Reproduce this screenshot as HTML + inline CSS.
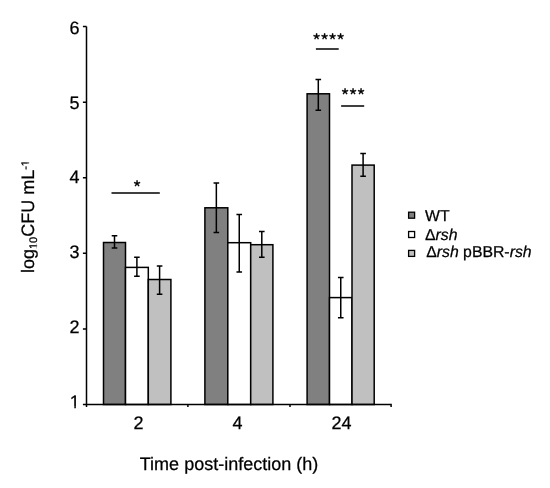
<!DOCTYPE html>
<html><head><meta charset="utf-8"><style>
html,body{margin:0;padding:0;background:#fff;}
svg{display:block;font-family:"Liberation Sans",Arial,sans-serif;text-rendering:geometricPrecision;}
text{stroke:#000;stroke-width:0.25px;}
</style></head><body>
<svg width="550" height="488" viewBox="0 0 550 488">
<rect width="550" height="488" fill="#fff"/>
<rect x="103.50" y="242.50" width="22.00" height="162.00" fill="#808080" stroke="#000" stroke-width="1.5"/>
<rect x="125.50" y="267.40" width="22.80" height="137.10" fill="#ffffff" stroke="#000" stroke-width="1.5"/>
<rect x="148.30" y="279.50" width="22.60" height="125.00" fill="#c0c0c0" stroke="#000" stroke-width="1.5"/>
<rect x="204.90" y="207.80" width="22.90" height="196.70" fill="#808080" stroke="#000" stroke-width="1.5"/>
<rect x="227.80" y="242.70" width="22.90" height="161.80" fill="#ffffff" stroke="#000" stroke-width="1.5"/>
<rect x="250.70" y="244.70" width="22.20" height="159.80" fill="#c0c0c0" stroke="#000" stroke-width="1.5"/>
<rect x="307.10" y="93.80" width="22.40" height="310.70" fill="#808080" stroke="#000" stroke-width="1.5"/>
<rect x="329.50" y="297.60" width="22.50" height="106.90" fill="#ffffff" stroke="#000" stroke-width="1.5"/>
<rect x="352.00" y="165.10" width="22.20" height="239.40" fill="#c0c0c0" stroke="#000" stroke-width="1.5"/>
<path d="M114.50 235.70V248.00M111.70 235.70H117.30M111.70 248.00H117.30" stroke="#000" stroke-width="1.5" fill="none"/>
<path d="M136.90 257.20V276.20M134.10 257.20H139.70M134.10 276.20H139.70" stroke="#000" stroke-width="1.5" fill="none"/>
<path d="M159.60 265.90V294.30M156.80 265.90H162.40M156.80 294.30H162.40" stroke="#000" stroke-width="1.5" fill="none"/>
<path d="M216.35 182.90V232.40M213.55 182.90H219.15M213.55 232.40H219.15" stroke="#000" stroke-width="1.5" fill="none"/>
<path d="M239.25 214.60V271.90M236.45 214.60H242.05M236.45 271.90H242.05" stroke="#000" stroke-width="1.5" fill="none"/>
<path d="M261.80 231.40V257.20M259.00 231.40H264.60M259.00 257.20H264.60" stroke="#000" stroke-width="1.5" fill="none"/>
<path d="M318.30 79.40V110.20M315.50 79.40H321.10M315.50 110.20H321.10" stroke="#000" stroke-width="1.5" fill="none"/>
<path d="M340.75 277.50V317.80M337.95 277.50H343.55M337.95 317.80H343.55" stroke="#000" stroke-width="1.5" fill="none"/>
<path d="M363.10 153.60V176.20M360.30 153.60H365.90M360.30 176.20H365.90" stroke="#000" stroke-width="1.5" fill="none"/>
<path d="M86.5 26.6V407.0M86.5 404.5H391.1V407.0M82.9 404.50H86.5M82.9 328.92H86.5M82.9 253.34H86.5M82.9 177.76H86.5M82.9 102.18H86.5M82.9 26.60H86.5M187.90 404.5V407.0M290.00 404.5V407.0" stroke="#000" stroke-width="1.5" fill="none"/>
<text x="79.5" y="333.15" text-anchor="end" font-size="18">2</text>
<text x="79.5" y="258.30" text-anchor="end" font-size="18">3</text>
<text x="79.5" y="183.45" text-anchor="end" font-size="18">4</text>
<text x="79.5" y="108.60" text-anchor="end" font-size="18">5</text>
<text x="79.5" y="33.75" text-anchor="end" font-size="18">6</text>
<clipPath id="c1"><rect x="60" y="380" width="30" height="26"/><rect x="74.3" y="380" width="1.55" height="30"/></clipPath>
<text x="69.8" y="407.6" font-size="18" clip-path="url(#c1)">1</text>
<text x="138.5" y="428.6" text-anchor="middle" font-size="18">2</text>
<text x="237.5" y="428.6" text-anchor="middle" font-size="18">4</text>
<text x="341.5" y="428.6" text-anchor="middle" font-size="18">24</text>
<path d="M111.5 193H159.8M315.9 49H338.7M341.1 106.1H364.2" stroke="#000" stroke-width="1.5" fill="none"/>
<text x="132.8" y="195.0" font-size="18.5" font-family="Noto Sans CJK SC, sans-serif" letter-spacing="-0.62">*</text>
<text x="312.3" y="48.3" font-size="18.5" font-family="Noto Sans CJK SC, sans-serif" letter-spacing="-0.62">****</text>
<text x="340.8" y="103.1" font-size="18.5" font-family="Noto Sans CJK SC, sans-serif" letter-spacing="-0.62">***</text>
<text x="139.8" y="470" font-size="18">Time post-infection (h)</text>
<mask id="m1" maskUnits="userSpaceOnUse" x="-5" y="-25" width="130" height="40"><rect x="-5" y="-25" width="130" height="40" fill="#fff"/><rect x="24" y="2.25" width="2.75" height="2.5" fill="#000"/><rect x="27.72" y="2.25" width="2.6" height="2.5" fill="#000"/><rect x="106.5" y="-6.4" width="3.18" height="2.4" fill="#000"/><rect x="110.64" y="-6.4" width="2.6" height="2.4" fill="#000"/></mask>
<text id="yt" mask="url(#m1)" transform="translate(34 273.1) rotate(-90)" font-size="18">log<tspan font-size="11" dy="3.3">1</tspan><tspan font-size="11">0</tspan><tspan dy="-3.3">CFU mL</tspan><tspan font-size="11" dy="-5.3">-</tspan><tspan font-size="11">1</tspan></text>
<rect x="408.6" y="212.20" width="6" height="6" fill="#808080" stroke="#000" stroke-width="1.3"/>
<text transform="translate(425 220.90) scale(1 1)" font-size="15.8">WT</text>
<rect x="408.6" y="231.50" width="6" height="6" fill="#ffffff" stroke="#000" stroke-width="1.3"/>
<text transform="translate(425 239.80) scale(1 1)" font-size="15.8">&#916;<tspan font-style="italic">rsh</tspan></text>
<rect x="408.6" y="250.40" width="6" height="6" fill="#c0c0c0" stroke="#000" stroke-width="1.3"/>
<text transform="translate(426.2 256.80) scale(1 1)" font-size="15.8">&#916;<tspan font-style="italic">rsh</tspan> pBBR-<tspan font-style="italic">rsh</tspan></text>
</svg>
</body></html>
